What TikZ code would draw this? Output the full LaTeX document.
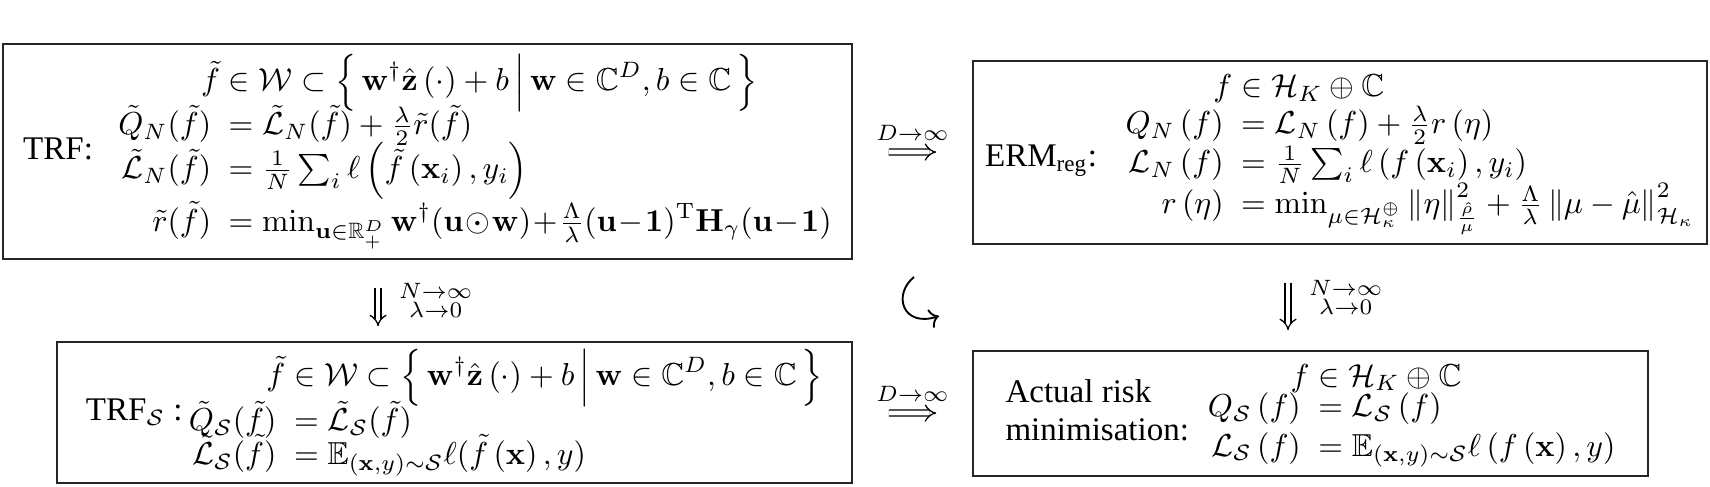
\documentclass[tikz,border=0pt]{standalone}
\usepackage{amsmath, amsfonts, amssymb}
\usepackage[no-math]{fontspec}
\setmainfont{Liberation Serif}[Scale=1.04]
\usetikzlibrary{arrows.meta}
\setlength{\jot}{0pt}
\begin{document}
\begin{tikzpicture}[x=0.315pt,y=-0.315pt]
	\tikzstyle{box}=[draw=black!85,line width=0.5pt,inner sep=0pt,align=left]
	\tikzstyle{implies}=[double,double distance=1.5pt,line width=0.4pt,-{Implies}]
	\useasboundingbox (0,0) rectangle (1710,487);
	\node[box,minimum width=267.4pt,minimum height=67.7pt](trf) at (427.5,151.5) {TRF:\hspace{8pt}$\begin{aligned}
		\tilde f &\in \mathcal{W} \subset \Big\{\, \mathbf{w}^\dagger \hat{\mathbf{z}}\left(\cdot\right) + b\,\Big|\, \mathbf{w}\in\mathbb{C}^D, b\in\mathbb{C}\,\Big\}\\[-3pt]
		\tilde Q_N(\tilde f)\; &= \tilde{\mathcal{L}}_N(\tilde f) + \tfrac{\lambda}{2}\tilde r(\tilde f)\\[-2.3pt]
		\tilde{\mathcal{L}}_N(\tilde f)\; &= \tfrac{1}{N}\textstyle\sum_i \ell\left(\tilde f\left(\mathbf{x}_i\right), y_i\right)\\[-0.2pt]
		\tilde r(\tilde f)\; &= \min\nolimits_{\mathbf{u}\in\mathbb{R}_+^D} \mathbf{w}^\dagger(\mathbf{u}\!\odot\!\mathbf{w})\!+\!\tfrac{\Lambda}{\lambda}(\mathbf{u}\!-\!\mathbf{1})^{\mathrm{T}}\mathbf{H}_\gamma(\mathbf{u}\!-\!\mathbf{1})
	\end{aligned}$};
	\node[box,minimum width=231.2pt,minimum height=57.6pt](erm) at (1340,152.5) {\raisebox{-2pt}{ERM\textsubscript{reg}:}\hspace{9pt}$\begin{aligned}
		f &\in \mathcal{H}_K \oplus \mathbb{C}\\[-1.8pt]
		Q_N\left(f\right)\; &= \mathcal{L}_N\left(f\right) + \tfrac{\lambda}{2} r\left(\eta\right)\\[-0.8pt]
		\mathcal{L}_N\left(f\right)\; &= \tfrac{1}{N}\textstyle\sum_i \ell\left(f\left(\mathbf{x}_i\right), y_i\right)\\[-1.2pt]
		r\left(\eta\right)\; &= \min\nolimits_{\mu\in\mathcal{H}_\kappa^\oplus} \left\|\eta\right\|^2_{\frac{\hat\rho}{\mu}} + \tfrac{\Lambda}{\lambda}\left\|\mu-\hat\mu\right\|^2_{\mathcal{H}_\kappa}
	\end{aligned}$};
	\node[box,minimum width=250.4pt,minimum height=44.4pt](trfs) at (454.5,412.5) {TRF$_{\mathcal{S}}$ :\hspace{2pt}$\begin{aligned}
		\tilde f &\in \mathcal{W} \subset \Big\{\, \mathbf{w}^\dagger \hat{\mathbf{z}}\left(\cdot\right) + b\,\Big|\, \mathbf{w}\in\mathbb{C}^D, b\in\mathbb{C}\,\Big\}\\[-2.6pt]
		\tilde Q_{\mathcal{S}}(\tilde f)\; &= \tilde{\mathcal{L}}_{\mathcal{S}}(\tilde f)\\[-3.4pt]
		\tilde{\mathcal{L}}_{\mathcal{S}}(\tilde f)\; &= \mathbb{E}_{(\mathbf{x},y)\sim\mathcal{S}}\ell(\tilde f\left(\mathbf{x}\right), y)
	\end{aligned}$};
	\node[box,minimum width=212.6pt,minimum height=39.4pt](risk) at (1310.5,413.5) {\begin{tabular}{@{}l@{}}Actual risk\\minimisation:\end{tabular}\hspace{6pt}$\begin{aligned}
		f &\in \mathcal{H}_K \oplus \mathbb{C}\\[-2.5pt]
		Q_{\mathcal{S}}\left(f\right)\; &= \mathcal{L}_{\mathcal{S}}\left(f\right)\\[0.5pt]
		\mathcal{L}_{\mathcal{S}}\left(f\right)\; &= \mathbb{E}_{(\mathbf{x},y)\sim\mathcal{S}}\ell\left(f\left(\mathbf{x}\right), y\right)
	\end{aligned}$};
	\draw[implies,shorten <=36*0.315pt,shorten >=36*0.315pt] (trf) -- node[above=0pt] {$\scriptstyle D\to\infty$} (erm);
	\draw[implies,shorten <=36*0.315pt,shorten >=36*0.315pt] (trfs) -- node[above=0pt] {$\scriptstyle D\to\infty$} (risk);
	\draw[implies,shorten <=28*0.315pt,shorten >=15*0.315pt] (trf.south -| 378,0) -- node[right=3pt] {$\scriptstyle\substack{N\to\infty\\ \lambda\to0}$} (trfs.north -| 378,0);
	\draw[implies,shorten <=38*0.315pt,shorten >=20*0.315pt] (erm.south -| 1288,0) -- node[right=3pt] {$\scriptstyle\substack{N\to\infty\\ \lambda\to0}$} (risk.north -| 1288,0);
	\coordinate (c1) at (914,277);
	\coordinate (c2) at (939,316);
	\draw[->,line width=0.6pt] (c1) .. controls (892,295) and (903,328) .. (c2);
\end{tikzpicture}
\end{document}
